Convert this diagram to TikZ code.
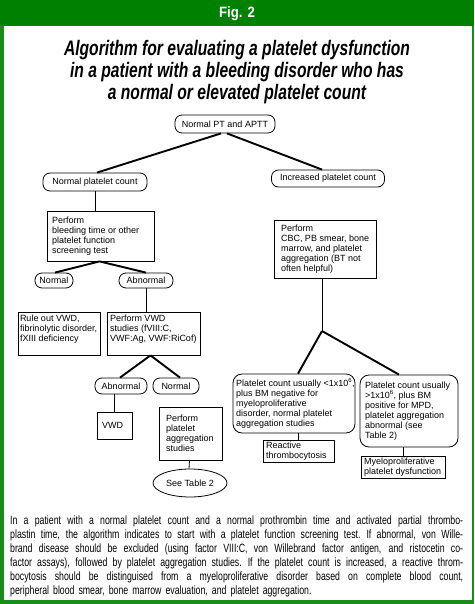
\documentclass[tikz,border=0pt]{standalone}
\usepackage{fontspec}
\usetikzlibrary{calc,shapes.geometric}
\newfontfamily\dfont{Liberation Sans}
\newfontfamily\tfont[FakeStretch=0.745]{Liberation Sans}
\newfontfamily\ffont[FakeStretch=0.88]{Liberation Sans}
\newfontfamily\cfont[FakeStretch=0.73]{Liberation Sans}
\definecolor{figgreen}{RGB}{0,128,0}
\definecolor{bordgreen}{RGB}{25,140,25}
% leftpad, height, inner vertical pos, width, text
\newcommand\tb[5]{\hspace*{#1}\parbox[c][#2][#3]{#4}{\raggedright #5}}
% one justified caption line
\newcommand\capline[1]{\makebox[453pt][s]{\spaceskip=\fontdimen2\font plus 2\fontdimen2\font minus .4\fontdimen2\font\relax #1}}
\tikzset{
  diag/.style={font={\dfont\fontsize{9}{10}\selectfont}},
  pill/.style={diag, draw, rounded corners=7pt, line width=0.8pt, inner sep=0pt},
  rbox/.style={diag, draw, rounded corners=9pt, line width=0.8pt, inner sep=0pt},
  sbox/.style={diag, draw, line width=0.8pt, inner sep=0pt},
  oval/.style={diag, draw, ellipse, line width=0.8pt, inner sep=0pt},
  thin/.style={line width=0.8pt},
  heavy/.style={line width=1.9pt}
}
\begin{document}
\begin{tikzpicture}[x=1pt,y=-1pt]
\useasboundingbox (0,0) rectangle (474,604);
% frame
\fill[bordgreen] (0,0) rectangle (474,604);
\fill[figgreen] (0,0) rectangle (474,26.5);
\fill[white] (4,26.5) rectangle (471.5,600);
\node[font={\ffont\bfseries\fontsize{15}{16}\selectfont}, text=white, inner sep=0pt] (fig) at (237,14) {Fig. 2};
\node[font={\tfont\bfseries\itshape\fontsize{21}{22}\selectfont}, align=center, anchor=north, inner sep=0pt] (title) at (237,40) {Algorithm for evaluating a platelet dysfunction\\in a patient with a bleeding disorder who has\\a normal or elevated platelet count};

% nodes
\node[pill, minimum width=100pt, minimum height=18pt] (pt) at (225,124) {Normal PT and APTT};
\node[pill, minimum width=104pt, minimum height=18pt] (npc) at (95,182) {Normal platelet count};
\node[pill, minimum width=113pt, minimum height=17pt] (incr) at (328,178.5) {Increased platelet count};

\node[sbox] (bt) at (100.5,236) {\tb{5pt}{50pt}{c}{102pt}{Perform\\bleeding time or other\\platelet function\\screening test}};
\node[pill, minimum width=38pt, minimum height=15pt] (n1) at (54,280.5) {Normal};
\node[pill, minimum width=54pt, minimum height=15pt] (a1) at (146,280.5) {Abnormal};

\node[sbox] (rule) at (59,333.5) {\tb{2pt}{43pt}{t}{80pt}{\vspace*{3pt}Rule out VWD,\\\mbox{fibrinolytic disorder,}\\fXIII deficiency}};
\node[sbox] (vwdst) at (153.5,333.5) {\tb{3pt}{43pt}{t}{90pt}{\vspace*{3pt}Perform VWD\\studies (fVIII:C,\\\mbox{VWF:Ag, VWF:RiCof)}}};

\node[pill, minimum width=52pt, minimum height=16pt] (a2) at (121,386) {Abnormal};
\node[pill, minimum width=46pt, minimum height=16pt] (n2) at (176,386) {Normal};

\node[sbox] (vwd) at (114.5,425.5) {\tb{5pt}{27pt}{c}{30pt}{VWD}};
\node[sbox] (agg) at (190.5,433.5) {\tb{7pt}{53pt}{c}{56pt}{Perform\\platelet\\aggregation\\studies}};
\node[oval, minimum width=74pt, minimum height=28pt] (tab) at (190,483) {See Table 2};

\node[sbox] (cbc) at (325,249) {\tb{7pt}{58pt}{c}{95pt}{Perform\\CBC, PB smear, bone\\marrow, and platelet\\aggregation (BT not\\often helpful)}};
\coordinate (j) at (322,331);
\node[rbox] (lb) at (294,403.5) {\tb{3pt}{59pt}{c}{119pt}{\mbox{Platelet count usually <1x10\textsuperscript{6},}\\plus BM negative for\\myeloproliferative\\disorder, normal platelet\\aggregation studies}};
\node[rbox] (rb) at (409,411) {\tb{5pt}{72pt}{c}{93pt}{Platelet count usually\\>1x10\textsuperscript{6}, plus BM\\positive for MPD,\\platelet aggregation\\abnormal (see\\Table 2)}};
\node[sbox] (react) at (298.5,451) {\tb{3pt}{22pt}{c}{68pt}{Reactive\\thrombocytosis}};
\node[sbox] (myelo) at (403,467) {\tb{3pt}{22pt}{c}{81pt}{Myeloproliferative\\platelet dysfunction}};

% connectors
\draw[heavy] ($(pt.south)+(-4,0)$) -- ($(npc.north)+(2,0)$);
\draw[heavy] ($(pt.south)+(2,0)$) -- ($(incr.north)+(-6,0)$);
\draw[thin] (npc.south) -- (npc.south |- bt.north);
\draw[heavy] ($(bt.south)+(-1,0)$) -- ($(n1.north)+(1,0)$);
\draw[heavy] ($(bt.south)+(-1,0)$) -- (a1.north);
\draw[thin] ($(n1.south)+(-1,0)$) -- ($(n1.south)+(-1,0)$ |- rule.north);
\draw[thin] (a1.south) -- (a1.south |- vwdst.north);
\draw[heavy] ($(vwdst.south)+(-3,0)$) -- ($(a2.north)+(-1,0)$);
\draw[heavy] ($(vwdst.south)+(-3,0)$) -- ($(n2.north)+(4,0)$);
\draw[thin] (vwd.north |- a2.south) -- (vwd.north);
\draw[thin] ($(n2.south)+(9,0)$) -- ($(n2.south)+(9,0)$ |- agg.north);
\draw[thin] ($(agg.south)+(-1,0)$) -- ($(tab.north)+(-1,0)$);
\draw[thin] ($(incr.south)+(-6,0)$) -- ($(incr.south)+(-6,0)$ |- cbc.north);
\draw[thin] ($(cbc.south)+(-3,0)$) -- (j);
\draw[heavy] (j) -- ($(lb.north)+(4,0)$);
\draw[heavy] (j) -- ($(rb.north)+(-10,0)$);
\draw[thin] (react.north |- lb.south) -- (react.north);
\draw[thin] (myelo.north |- rb.south) -- (myelo.north);

% caption
\node[font={\cfont\fontsize{12}{14}\selectfont}, text width=453pt, align=left, anchor=north west, inner sep=0pt] (cap) at (10,515.5) {%
\capline{In a patient with a normal platelet count and a normal prothrombin time and activated partial thrombo-}\\
\capline{plastin time, the algorithm indicates to start with a platelet function screening test. If abnormal, von Wille-}\\
\capline{brand disease should be excluded (using factor VIII:C, von Willebrand factor antigen, and ristocetin co-}\\
\capline{factor assays), followed by platelet aggregation studies. If the platelet count is increased, a reactive throm-}\\
\capline{bocytosis should be distinguised from a myeloproliferative disorder based on complete blood count,}\\
peripheral blood smear, bone marrow evaluation, and platelet aggregation.};
\end{tikzpicture}
\end{document}
